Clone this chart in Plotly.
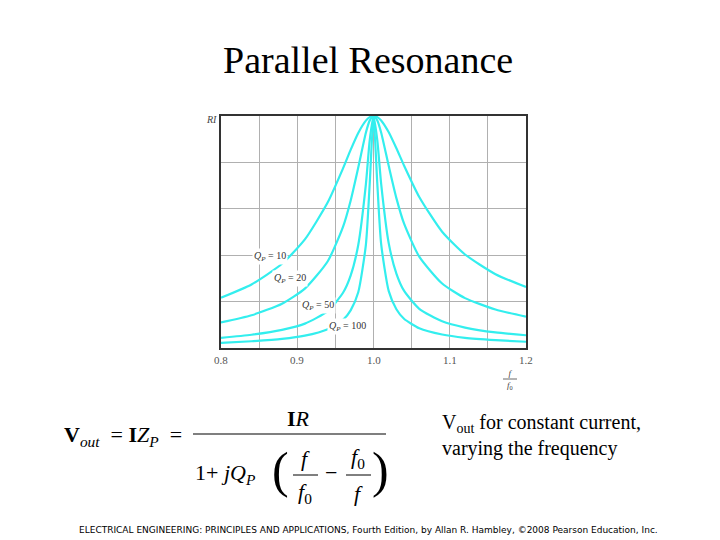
import plotly.graph_objects as go

x = [0.80,0.84,0.88,0.91,0.94,0.96,0.97,0.98,0.99,0.995,1.0,1.005,1.01,1.02,1.03,1.04,1.06,1.09,1.12,1.16,1.20]
q10 = [0.217,0.274,0.363,0.468,0.628,0.774,0.854,0.927,0.980,0.995,1,0.995,0.981,0.930,0.861,0.787,0.651,0.501,0.403,0.318,0.263]
q20 = [0.110,0.141,0.191,0.256,0.374,0.522,0.635,0.778,0.928,0.980,1,0.981,0.929,0.784,0.646,0.537,0.394,0.278,0.215,0.166,0.135]
q50 = [0.044,0.057,0.078,0.105,0.159,0.238,0.312,0.444,0.705,0.894,1,0.895,0.709,0.451,0.321,0.247,0.169,0.115,0.088,0.067,0.055]
q100 = [0.022,0.029,0.039,0.053,0.081,0.121,0.162,0.240,0.445,0.706,1,0.708,0.449,0.245,0.167,0.126,0.085,0.058,0.044,0.034,0.027]
xticks = [0.8,0.9,1.0,1.1,1.2]
xticklabels = ["0.8","0.9","1.0","1.1","1.2"]

W, H = 720, 540
SERIF = "Liberation Serif"
def px(xp): return xp / W
def py(yp): return 1 - yp / H

fig = go.Figure()
for ys in [q10, q20, q50, q100]:
    fig.add_trace(go.Scatter(x=x, y=ys, mode="lines", line=dict(color="#33eeee", width=2.2, shape="spline", smoothing=0.6), showlegend=False, hoverinfo="skip"))

fig.update_layout(
    width=W, height=H, margin=dict(l=0, r=0, t=0, b=0),
    paper_bgcolor="white", plot_bgcolor="white",
    font=dict(family=SERIF, color="black"),
    xaxis=dict(domain=[px(213), px(518)], range=[0.8, 1.2], dtick=0.05, tick0=0.8,
               showgrid=True, gridcolor="#b0b0b0", gridwidth=1,
               showline=True, linecolor="#333", mirror=True, linewidth=1.5,
               showticklabels=False, zeroline=False, ticks=""),
    yaxis=dict(domain=[py(340), py(108)], range=[0, 1.0], dtick=0.2,
               showgrid=True, gridcolor="#b0b0b0", gridwidth=1,
               showline=True, linecolor="#333", mirror=True, linewidth=1.5,
               showticklabels=False, zeroline=False, ticks=""),
)

ann = []
def A(xp, yp, text, size, color="black", family=SERIF, **kw):
    d = dict(x=px(xp), y=py(yp), xref="paper", yref="paper", text=text, showarrow=False,
             xanchor="center", yanchor="middle", font=dict(size=size, color=color, family=family))
    d.update(kw)
    ann.append(d)

for v, t in zip(xticks, xticklabels):
    ann.append(dict(x=v, y=0, xref="x", yref="y", yshift=-12, text=t, showarrow=False,
                    xanchor="center", yanchor="middle",
                    font=dict(size=11, color="#555", family=SERIF)))
A(203, 112, "<i>RI</i>", 10, "#444")
A(502, 371, "<i>f</i><br><i>f</i><sub>0</sub>", 9, "#444")
for xp, yp, qv in [(262, 248, "10"), (282, 270, "20"), (310, 297, "50"), (339, 318, "100")]:
    A(xp, yp, "<i>Q</i><sub><i>P</i></sub> = " + qv, 10, "#333", bgcolor="white")
A(360, 52, "Parallel Resonance", 38)
# equation
A(115, 428, "<b>V</b><sub><i>out</i></sub>  = <b>I</b><i>Z</i><sub><i>P</i></sub>  =", 22)
A(290, 410, "<b>I</b><i>R</i>", 22)
A(218, 466, "1+ <i>jQ</i><sub><i>P</i></sub>", 22)
A(272, 462, "(", 50)
A(372, 462, ")", 50)
A(297, 450, "<i>f</i>", 22)
A(297, 485, "<i>f</i><sub>0</sub>", 22)
A(323, 464, "−", 22)
A(350, 450, "<i>f</i><sub>0</sub>", 22)
A(350, 485, "<i>f</i>", 22)
A(432, 427, "V<sub>out</sub> for constant current,<br>varying the frequency", 20, xanchor="left", align="left")
A(360, 522, "ELECTRICAL ENGINEERING: PRINCIPLES AND APPLICATIONS, Fourth Edition, by Allan R. Hambley, ©2008 Pearson Education, Inc.", 9, family="DejaVu Sans")
fig.update_layout(annotations=ann)
shapes = [dict(type="line", xref="paper", yref="paper", x0=px(185), x1=px(378), y0=py(426), y1=py(426), line=dict(color="black", width=1.2)),
          dict(type="line", xref="paper", yref="paper", x0=px(285), x1=px(310), y0=py(467), y1=py(467), line=dict(color="black", width=1)),
          dict(type="line", xref="paper", yref="paper", x0=px(338), x1=px(363), y0=py(467), y1=py(467), line=dict(color="black", width=1)),
          dict(type="line", xref="paper", yref="paper", x0=px(495), x1=px(509), y0=py(371), y1=py(371), line=dict(color="#444", width=0.8))]
fig.update_layout(shapes=shapes)
fig.write_html("out.html")
